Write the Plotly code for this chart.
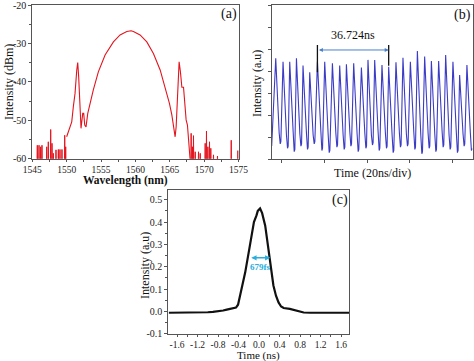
import plotly.graph_objects as go

# ---------------- (a) optical spectrum ----------------
spec_wl = [1550.0, 1550.24, 1550.49, 1550.74, 1550.97, 1551.22, 1551.47, 1551.61, 1551.75, 1551.95,
           1552.09, 1552.34, 1552.48, 1552.63, 1552.82, 1553.07, 1553.4, 1553.88, 1554.61, 1555.59,
           1556.8, 1557.77, 1558.75, 1559.37, 1559.71, 1560.68, 1561.66, 1562.62, 1563.6, 1564.32,
           1564.95, 1565.3, 1565.53, 1565.78, 1565.93, 1566.12, 1566.36, 1566.55, 1566.76, 1567.0,
           1567.14, 1567.38, 1567.57, 1567.78, 1567.97]
spec_db = [-54.3, -53.0, -52.1, -50.4, -46.5, -43.0, -36.9, -35.0, -38.7, -47.3,
           -52.1, -48.2, -48.2, -51.25, -51.7, -48.2, -45.6, -42.1, -37.4, -33.0,
           -29.6, -27.8, -26.9, -26.7, -26.9, -27.8, -29.6, -32.6, -36.9, -41.3,
           -45.6, -48.6, -51.25, -54.3, -51.7, -44.7, -34.8, -37.4, -41.4, -41.4,
           -44.7, -49.9, -51.25, -55.2, -60.5]
noise_wl = [1545.73, 1545.98, 1546.22, 1546.41, 1547.1, 1547.33, 1547.68, 1547.87, 1548.06,
            1548.45, 1548.79, 1549.03, 1549.32, 1549.72, 1549.86,
            1568.11, 1568.3, 1568.45, 1568.7, 1569.18, 1569.43, 1570.15, 1570.34, 1570.54,
            1570.78, 1570.97, 1571.36, 1571.94, 1573.94, 1574.91]
noise_db = [-56.5, -56.5, -56.9, -56.5, -56.9, -55.6, -52.4, -56.0, -58.6,
            -57.7, -57.6, -57.6, -57.6, -53.9, -56.9,
            -53.4, -56.9, -54.0, -58.2, -58.2, -58.6, -56.0, -52.8, -56.9,
            -55.6, -57.3, -59.0, -59.3, -55.2, -57.9]
floor_db = -61
a_xticks = [1545, 1550, 1555, 1560, 1565, 1570, 1575]
a_yticks = [-60, -50, -40, -30, -20]

# ---------------- (b) pulse train ----------------
peak_t = [-2.81, 0.61, 3.74, 6.88, 9.96, 13.10, 16.70, 20.12, 23.72, 27.13, 30.27, 33.68, 37.29, 40.37,
          43.51, 46.92, 50.06, 53.47, 56.75, 60.21, 63.49, 66.90, 70.04, 73.45, 76.73, 80.14, 83.27, 86.69]
peak_v = [4.58, 4.43, 4.43, 4.58, 4.25, 3.95, 4.43, 4.43, 4.36, 4.25, 4.31, 4.36, 4.16, 4.51,
          4.5, 4.28, 4.2, 4.4, 4.61, 4.43, 4.91, 4.66, 4.46, 4.46, 4.73, 4.43, 3.82, 4.28]
kink_v = [1.2, 1.1, 1.25, 1.15, 1.2, 1.1, 1.3, 1.15, 1.2, 1.1, 1.25, 1.15, 1.2, 1.1,
          1.25, 1.2, 1.1, 1.2, 1.15, 1.25, 1.1, 1.2, 1.15, 1.3, 1.1, 1.2, 1.15, 1.2]
trough_v = [0.7, 0.5, 0.35, 0.6, 0.45, 0.7, 0.4, 0.3, 0.55, 0.45, 0.6, 0.35, 0.5, 0.65,
            0.4, 0.5, 0.3, 0.55, 0.6, 0.45, 0.25, 0.5, 0.35, 0.55, 0.45, 0.3, 0.6, 0.4]
start_v = 0.6
period_label = "36.724ns"

# ---------------- (c) autocorrelation ----------------
ac_t = [-1.76, -1.4, -1.2, -1.0, -0.9, -0.8, -0.7, -0.63, -0.55, -0.5, -0.45, -0.41, -0.37, -0.32,
        -0.27, -0.19, -0.1, -0.05, -0.025, 0.02, 0.06, 0.12, 0.2, 0.28, 0.33, 0.38, 0.43, 0.48,
        0.6, 0.67, 0.8, 0.87, 1.0, 1.3, 1.76]
ac_v = [-0.006, -0.006, -0.005, -0.004, -0.002, 0.0, 0.004, 0.008, 0.012, 0.014, 0.017, 0.03, 0.071, 0.12,
        0.175, 0.28, 0.40, 0.43, 0.45, 0.461, 0.44, 0.384, 0.24, 0.116, 0.07, 0.04, 0.022, 0.015,
        0.011, 0.007, 0.0, -0.005, -0.006, -0.006, -0.006]
c_xticks = [-1.6, -1.2, -0.8, -0.4, 0.0, 0.4, 0.8, 1.2, 1.6]
c_yticks = [-0.1, 0.0, 0.1, 0.2, 0.3, 0.4, 0.5]
fwhm_t = [-0.18, 0.22]
fwhm_v = 0.24
fwhm_label = "679fs"

# ---------- build traces ----------
nx, ny = [], []
for w, d in zip(noise_wl, noise_db):
    nx += [w - 0.04, w, w + 0.04, None]
    ny += [floor_db, d, floor_db, None]

bx, by = [-4.7], [start_v]
for t, p, k, tr in zip(peak_t, peak_v, kink_v, trough_v):
    bx += [t, t + 1.6, t + 2.1, t + 2.4]
    by += [p, k, tr, tr + 0.1]

red = "#e3141e"
fig = go.Figure()
fig.add_trace(go.Scatter(x=spec_wl, y=spec_db, mode="lines", line=dict(color=red, width=1.1),
                         xaxis="x", yaxis="y", showlegend=False))
fig.add_trace(go.Scatter(x=nx, y=ny, mode="lines", line=dict(color=red, width=1),
                         xaxis="x", yaxis="y", showlegend=False))
fig.add_trace(go.Scatter(x=bx, y=by, mode="lines", line=dict(color="#3b3bc6", width=1.1),
                         xaxis="x2", yaxis="y2", showlegend=False))
fig.add_trace(go.Scatter(x=ac_t, y=ac_v, mode="lines", line=dict(color="#111111", width=2.2),
                         xaxis="x3", yaxis="y3", showlegend=False))

def fmt(v, nd=0):
    s = f"{v:.{nd}f}"
    return "0.0" if s == "-0.0" else s

serif = "Liberation Serif"
tickfont = dict(family=serif, size=10, color="#222")
xtickfont = dict(family=serif, size=9.5, color="#222")
base = dict(showline=True, linecolor="#555", linewidth=1, mirror=True, ticks="outside",
            tickcolor="#555", showgrid=False, zeroline=False, automargin=False, tickangle=0)
ycommon = dict(ticklen=3, tickfont=tickfont, **base)
xcommon = dict(ticklen=2, tickfont=xtickfont, **base)
minor = dict(ticks="outside", ticklen=2, tickcolor="#555", showgrid=False)

fig.update_layout(
    template="none",
    width=474, height=361, margin=dict(l=0, r=0, t=0, b=0), autosize=False,
    paper_bgcolor="white", plot_bgcolor="white",
    xaxis=dict(domain=[0.0681, 0.5032], range=[1545, 1575], anchor="y",
               tickvals=a_xticks, ticktext=[fmt(v) for v in a_xticks],
               minor=dict(dtick=2.5, **minor), **xcommon),
    yaxis=dict(domain=[0.5604, 0.9861], range=[-60, -20], anchor="x",
               tickvals=a_yticks, ticktext=[fmt(v) for v in a_yticks],
               minor=dict(dtick=5, **minor), **ycommon),
    xaxis2=dict(domain=[0.5732, 0.9973], range=[-4.7, 89.4], tickvals=[0, 20, 40, 60, 80],
                showticklabels=False, anchor="y2", **ycommon),
    yaxis2=dict(domain=[0.5587, 0.9861], range=[0, 7], dtick=1, showticklabels=False,
                anchor="x2", **ycommon),
    xaxis3=dict(domain=[0.3551, 0.7369], range=[-1.77, 1.76], anchor="y3",
                tickvals=c_xticks, ticktext=[fmt(v, 1) for v in c_xticks],
                minor=dict(dtick=0.2, tick0=0, **minor), **xcommon),
    yaxis3=dict(domain=[0.0756, 0.4745], range=[-0.1, 0.545], anchor="x3",
                tickvals=c_yticks, ticktext=[fmt(v, 1) for v in c_yticks],
                minor=dict(dtick=0.05, tick0=0, **minor), **ycommon),
)

def label(text, x, y, size=12, angle=0, bold=False, color="#111"):
    fig.add_annotation(text=f"<b>{text}</b>" if bold else text, x=x / 474, y=1 - y / 361,
                       xref="paper", yref="paper", showarrow=False, textangle=angle,
                       font=dict(family=serif, size=size, color=color),
                       xanchor="center", yanchor="middle")

label("(a)", 229, 14, size=14)
label("(b)", 462, 15, size=14)
label("(c)", 340, 200, size=14)
label("Intensity (dBm)", 9, 82, size=12, angle=-90)
label("Wavelength (nm)", 126, 180, size=11.5, bold=True)
label("Intensity (a.u)", 257, 84, size=12, angle=-90)
label("Time (20ns/div)", 372, 173, size=12)
label("Intensity (a.u)", 145, 266, size=12, angle=-90)
label("Time (ns)", 258, 355.5, size=11)

# (b) period marker
t0, t1 = peak_t[6], peak_t[16]
fig.add_annotation(x=t1, y=4.96, ax=t0, ay=4.96, xref="x2", yref="y2", axref="x2", ayref="y2",
                   showarrow=True, arrowhead=2, arrowside="end+start", arrowsize=0.8,
                   arrowwidth=1, arrowcolor="#4a80cc", text="")
fig.add_shape(type="line", x0=t0, x1=t0, y0=5.19, y1=3.95, xref="x2", yref="y2",
              line=dict(color="#111", width=1.3))
fig.add_shape(type="line", x0=t1, x1=t1, y0=5.19, y1=4.25, xref="x2", yref="y2",
              line=dict(color="#111", width=1.3))
fig.add_annotation(x=(t0 + t1) / 2, y=5.22, xref="x2", yref="y2", text=period_label,
                   showarrow=False, yanchor="bottom",
                   font=dict(family=serif, size=12, color="#111"))

# (c) FWHM marker
fig.add_annotation(x=fwhm_t[1], y=fwhm_v, ax=fwhm_t[0], ay=fwhm_v, xref="x3", yref="y3",
                   axref="x3", ayref="y3", showarrow=True, arrowhead=2, arrowside="end+start",
                   arrowsize=0.7, arrowwidth=1.5, arrowcolor="#2aaee0", text="")
fig.add_annotation(x=sum(fwhm_t) / 2, y=fwhm_v - 0.01, xref="x3", yref="y3", text=f"<b>{fwhm_label}</b>",
                   showarrow=False, yanchor="top",
                   font=dict(family=serif, size=9, color="#2aaee0"))

fig.write_html("out.html", config={"displayModeBar": False},
               post_script="document.body.style.margin='0px';document.body.style.overflow='hidden';")
